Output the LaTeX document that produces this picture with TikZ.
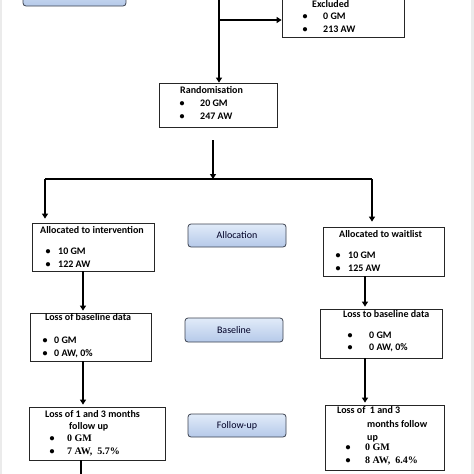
\documentclass[tikz,border=0pt]{standalone}
\usepackage{fontspec}
\setmainfont{Carlito}
\newfontfamily\serifbold{Liberation Serif}[BoldFont={Liberation Serif Bold}]
\usetikzlibrary{arrows.meta}

\definecolor{etapaarriba}{HTML}{E1EBF9}
\definecolor{etapaabajo}{HTML}{B5C9E9}
\definecolor{etapaborde}{HTML}{3C4250}

\tikzset{
	caja/.style={draw=black!85, line width=0.8pt, inner sep=0pt},
	etapa/.style={draw=etapaborde, line width=0.8pt, rounded corners=3pt, top color=etapaarriba, bottom color=etapaabajo, inner sep=0pt, font=\fontsize{10}{12}\selectfont, text=black!85!blue},
	titulo/.style={inner sep=0pt, font=\fontsize{10}{13}\selectfont\bfseries},
	lista/.style={inner sep=0pt, align=left, font=\fontsize{10}{13}\selectfont\bfseries},
	flecha/.style={->, line width=1.2pt}
}

\begin{document}
\begin{tikzpicture}[x=1pt, y=-1pt, >={Triangle[width=6pt,length=5pt]}]

	\useasboundingbox (0,0) rectangle (474,474);
	\fill[black!8] (0,0) rectangle (2,474);
	\fill[black!8] (471,0) rectangle (474,474);

	% Cajas de arriba
	\draw (74.5,-7) node[etapa, minimum width=103, minimum height=26] (inicio) {};

	\draw (343,8.5) node[caja, minimum width=122, minimum height=57] (excluidos) {};
	\node[titulo, anchor=base west] at (312,7.5) {Excluded};
	\node[lista, anchor=base west] at (302.5,32.5)
	{
		\makebox[20.5pt][l]{\textbullet}0 GM \\
		\makebox[20.5pt][l]{\textbullet}213 AW
	};

	% Aleatorizacion
	\draw (218,105) node[caja, minimum width=118, minimum height=44] (aleatorio) {};
	\node[titulo, anchor=base west] at (180,93.5) {Randomisation};
	\node[lista, anchor=base west] at (179.5,119.5)
	{
		\makebox[20.5pt][l]{\textbullet}20 GM \\
		\makebox[20.5pt][l]{\textbullet}247 AW
	};

	% Asignacion
	\draw (93,247) node[caja, minimum width=122, minimum height=48] (intervencion) {};
	\node[titulo, anchor=base west] at (40,233.5) {Allocated to intervention};
	\node[lista, anchor=base west] at (45.5,267.5)
	{
		\makebox[12.5pt][l]{\textbullet}10 GM \\
		\makebox[12.5pt][l]{\textbullet}122 AW
	};

	\draw (237,235.5) node[etapa, minimum width=98, minimum height=23] (asignacion) {Allocation};

	\draw (383.5,251.5) node[caja, minimum width=121, minimum height=49] (espera) {};
	\node[titulo, anchor=base west] at (339,237.5) {Allocated to waitlist};
	\node[lista, anchor=base west] at (335.5,271.5)
	{
		\makebox[12.5pt][l]{\textbullet}10 GM \\
		\makebox[12.5pt][l]{\textbullet}125 AW
	};

	% Linea base
	\draw (90.5,337) node[caja, minimum width=121, minimum height=48] (baseizq) {};
	\node[titulo, anchor=base west] at (45,320.5) {Loss of baseline data};
	\node[lista, anchor=base west] at (42.5,356.5)
	{
		\makebox[11.5pt][l]{\textbullet}0 GM \\
		\makebox[11.5pt][l]{\textbullet}0 AW, 0\%
	};

	\draw (234,330) node[etapa, minimum width=98, minimum height=24] (lineabase) {Baseline};

	\draw (381,333.5) node[caja, minimum width=122, minimum height=49] (baseder) {};
	\node[titulo, anchor=base west] at (343,317.5) {Loss to baseline data};
	\node[lista, anchor=base west] at (347.5,350)
	{
		\makebox[21.5pt][l]{\textbullet}0 GM \\[-1.5pt]
		\makebox[21.5pt][l]{\textbullet}0 AW, 0\%
	};

	% Seguimiento
	\draw (97,433.5) node[caja, minimum width=136, minimum height=53] (seguizq) {};
	\node[titulo, anchor=base west] at (45,417.5) {Loss of 1 and 3 months};
	\node[titulo, anchor=base west] at (69,429.5) {follow up};
	\node[lista, anchor=base west] at (49.5,454.5)
	{
		\makebox[17.5pt][l]{\textbullet}{\serifbold 0 GM} \\
		\makebox[17.5pt][l]{\textbullet}{\serifbold 7 AW,\ \ 5.7\%}
	};

	\draw (237,425.5) node[etapa, minimum width=98, minimum height=23] (seguimiento) {Follow-up};

	\draw (384.5,437.5) node[caja, minimum width=119, minimum height=65] (seguder) {};
	\node[titulo, anchor=base west] at (337,413.5) {Loss of\ \ 1 and 3};
	\node[lista, anchor=base west] at (367,440.5)
	{
		months follow \\
		up
	};
	\node[lista, anchor=base west] at (345.5,463.5)
	{
		\makebox[19.5pt][l]{\textbullet}{\serifbold 0 GM} \\
		\makebox[19.5pt][l]{\textbullet}{\serifbold 8 AW,\ \ 6.4\%}
	};

	% Flechas
	\coordinate (arriba) at (219,0);
	\coordinate (rama) at (219,20);
	\draw [flecha] (arriba) -- (arriba |- aleatorio.north);
	\draw [flecha] (rama) -- (rama -| excluidos.west);

	\coordinate (salida) at (213,140);
	\coordinate (reparto) at (213,179);
	\draw [flecha] (salida) -- (reparto);
	\draw [line width=1.2pt] (45,179) -- (372,179);
	\draw [flecha, shorten >=4pt] (45,179) -- (45,179 |- intervencion.north);
	\draw [flecha, shorten >=5pt] (372,179) -- (372,179 |- espera.north);

	\draw [flecha, shorten >=2pt] ([xshift=-10pt]intervencion.south) -- ([xshift=-10pt]intervencion.south |- baseizq.north);
	\draw [flecha, shorten >=2pt] ([xshift=-18.5pt]espera.south) -- ([xshift=-18.5pt]espera.south |- baseder.north);
	\draw [flecha, shorten >=2pt] ([xshift=-7.5pt]baseizq.south) -- ([xshift=-7.5pt]baseizq.south |- seguizq.north);
	\draw [flecha, shorten >=2pt] ([xshift=-16pt]baseder.south) -- ([xshift=-16pt]baseder.south |- seguder.north);
	\draw [line width=1.2pt] ([xshift=-16pt]seguizq.south) -- ([xshift=-16pt]seguizq.south |- 0,474);

\end{tikzpicture}
\end{document}
